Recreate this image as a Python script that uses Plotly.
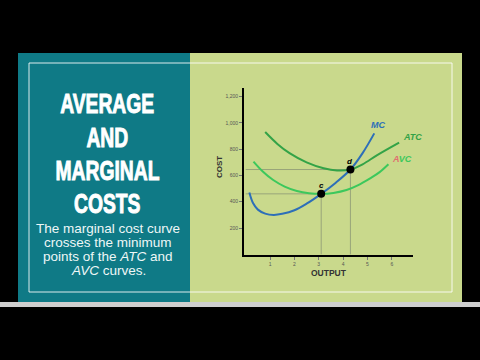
import plotly.graph_objects as go

# ---- data ----
mc_x = [0.15, 0.3, 0.5, 0.8, 1.15, 1.5, 2.0, 2.5, 3.1, 3.7, 4.3, 4.8, 5.28]
mc_y = [470, 390, 340, 310, 300, 308, 335, 385, 460, 545, 645, 770, 920]

atc_x = [0.8, 1.3, 1.8, 2.5, 3.2, 3.75, 4.3, 4.8, 5.4, 6.3]
atc_y = [930, 840, 770, 700, 655, 638, 645, 685, 755, 850]

avc_x = [0.32, 0.7, 1.13, 1.6, 2.1, 2.6, 3.1, 3.6, 4.14, 4.6, 5.11, 5.5, 5.86]
avc_y = [705, 630, 565, 515, 482, 465, 460, 467, 489, 525, 578, 625, 685]

point_names = ["c", "d"]
point_x = [3.1, 4.3]
point_y = [460, 645]

x_ticks = [1, 2, 3, 4, 5, 6]
y_ticks = [200, 400, 600, 800, 1000, 1200]
y_tick_labels = ["200", "400", "600", "800", "1,000", "1,200"]

title_lines = ["AVERAGE", "AND", "MARGINAL", "COSTS"]
body_lines = ["The marginal cost curve", "crosses the minimum",
              "points of the <i>ATC</i> and", "<i>AVC</i> curves."]

W, H = 480, 360
def px(x):
    return x / W
def py(y):
    return 1 - y / H

TEAL = "#0f7a86"
GREEN = "#c9d98c"

fig = go.Figure()

fig.add_trace(go.Scatter(x=avc_x, y=avc_y, mode="lines", line=dict(color="#3cc85c", width=2, shape="spline"), hoverinfo="skip"))
fig.add_trace(go.Scatter(x=atc_x, y=atc_y, mode="lines", line=dict(color="#33a347", width=2, shape="spline"), hoverinfo="skip"))
fig.add_trace(go.Scatter(x=mc_x, y=mc_y, mode="lines", line=dict(color="#2d6fb8", width=2, shape="spline"), hoverinfo="skip"))
fig.add_trace(go.Scatter(x=point_x, y=point_y, mode="markers", marker=dict(color="black", size=8), hoverinfo="skip"))

shapes = [
    dict(type="rect", xref="paper", yref="paper", x0=px(18), x1=px(190), y0=py(302), y1=py(53),
         fillcolor=TEAL, line_width=0, layer="below"),
    dict(type="rect", xref="paper", yref="paper", x0=px(190), x1=px(462), y0=py(302), y1=py(53),
         fillcolor=GREEN, line_width=0, layer="below"),
    dict(type="rect", xref="paper", yref="paper", x0=px(29), x1=px(452), y0=py(292), y1=py(63),
         line=dict(color="rgba(255,255,255,0.85)", width=1), fillcolor="rgba(0,0,0,0)", layer="below"),
    dict(type="rect", xref="paper", yref="paper", x0=0, x1=1, y0=py(307), y1=py(302),
         fillcolor="#cfcfcf", line_width=0, layer="below"),
]
for xv, yv in zip(point_x, point_y):
    shapes.append(dict(type="line", xref="x", yref="y", x0=0, x1=xv, y0=yv, y1=yv,
                       line=dict(color="rgba(120,130,110,0.6)", width=1), layer="below"))
    shapes.append(dict(type="line", xref="x", yref="y", x0=xv, x1=xv, y0=0, y1=yv,
                       line=dict(color="rgba(120,130,110,0.6)", width=1), layer="below"))

annotations = []
title_font = dict(family="Liberation Sans, Arial, sans-serif", size=28, color="white", weight="bold")
for txt, yc in zip(title_lines, [103, 137, 170, 203]):
    annotations.append(dict(text=txt, xref="paper", yref="paper", x=px(107), y=py(yc),
                            xanchor="center", yanchor="middle", showarrow=False, font=title_font))
body_font = dict(family="Liberation Sans, Arial, sans-serif", size=13.5, color="#eef7f7")
for txt, yc in zip(body_lines, [228, 242, 256, 270]):
    annotations.append(dict(text=txt, xref="paper", yref="paper", x=px(108), y=py(yc),
                            xanchor="center", yanchor="middle", showarrow=False, font=body_font))

lab_font = "Liberation Sans, Arial, sans-serif"
annotations += [
    dict(text="<b><i>MC</i></b>", x=mc_x[-1], y=mc_y[-1], xref="x", yref="y", xshift=4, yshift=8,
         xanchor="center", showarrow=False, font=dict(family=lab_font, size=9, color="#2d6fb8")),
    dict(text="<b><i>ATC</i></b>", x=atc_x[-1], y=atc_y[-1], xref="x", yref="y", xshift=13, yshift=6,
         xanchor="center", showarrow=False, font=dict(family=lab_font, size=9, color="#33a347")),
    dict(text="<b><i><span style='color:#e07070'>A</span>VC</i></b>", x=avc_x[-1], y=avc_y[-1], xref="x", yref="y",
         xshift=14, yshift=5, xanchor="center", showarrow=False, font=dict(family=lab_font, size=9, color="#3cc85c")),
]
for n, xv, yv in zip(point_names, point_x, point_y):
    annotations.append(dict(text="<b><i>%s</i></b>" % n, x=xv, y=yv, xref="x", yref="y", yshift=8,
                            showarrow=False, font=dict(family=lab_font, size=8, color="black")))
annotations += [
    dict(text="<b>COST</b>", xref="paper", yref="paper", x=px(219), y=py(167), textangle=-90,
         xanchor="center", yanchor="middle",
         showarrow=False, font=dict(family=lab_font, size=8, color="#333333")),
    dict(text="<b>OUTPUT</b>", xref="paper", yref="paper", x=px(329), y=py(273),
         xanchor="center", yanchor="middle",
         showarrow=False, font=dict(family=lab_font, size=8.5, color="#333333")),
]

fig.update_layout(
    width=W, height=H, margin=dict(l=0, r=0, t=0, b=0),
    paper_bgcolor="black", plot_bgcolor="rgba(0,0,0,0)",
    showlegend=False, shapes=shapes, annotations=annotations,
    xaxis=dict(domain=[px(244), px(413)], range=[-0.07, 6.87], showgrid=False, zeroline=False,
               showline=True, linecolor="black", linewidth=2,
               tickvals=x_ticks, ticks="outside", ticklen=3, tickcolor="#777777",
               tickfont=dict(size=5, color="#555555", family=lab_font)),
    yaxis=dict(domain=[py(255), py(88)], range=[-5, 1265], showgrid=False, zeroline=False,
               showline=True, linecolor="black", linewidth=2,
               tickvals=y_ticks, ticktext=y_tick_labels, ticks="outside", ticklen=3, tickcolor="#777777",
               tickfont=dict(size=5, color="#555555", family=lab_font)),
)

post = """
document.body.style.margin = '0';
document.body.style.background = 'black';
var gd = document.getElementById('{plot_id}');
var names = %s;
gd.querySelectorAll('.annotation-text').forEach(function (t) {
  if (names.indexOf(t.textContent) >= 0) {
    var b = t.getBBox();
    var cx = b.x + b.width / 2;
    var old = t.getAttribute('transform') || '';
    t.setAttribute('transform', old + ' translate(' + cx + ',0) scale(0.69,1) translate(' + (-cx) + ',0)');
    t.style.stroke = 'white';
    t.style.strokeWidth = '1px';
  }
});
""" % str(title_lines).replace("'", '"')

fig.write_html("out.html", post_script=post, config={"displayModeBar": False, "staticPlot": True})
